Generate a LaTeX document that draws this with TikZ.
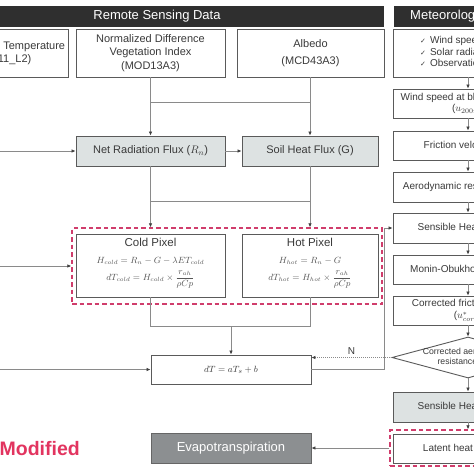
\documentclass[tikz,border=0pt]{standalone}
\usepackage{fontspec}
\setmainfont{Liberation Sans}
\newfontfamily\dejavu{DejaVu Sans}
\usetikzlibrary{arrows.meta,shapes.geometric}
\definecolor{hdr}{HTML}{2F2F2F}
\definecolor{bord}{HTML}{5A5A5A}
\definecolor{txt}{HTML}{3A3A3A}
\definecolor{lgray}{HTML}{DDE2E2}
\definecolor{dgray}{HTML}{8C8F91}
\definecolor{lin}{HTML}{8A8A8A}
\definecolor{redd}{HTML}{D03D6C}
\definecolor{modc}{HTML}{E2345F}
\begin{document}
\begin{tikzpicture}[x=1pt,y=-1pt,
  box/.style={draw=bord, line width=0.9pt, fill=white, text=txt, font=\fontsize{11}{13.5}\selectfont, align=center, inner sep=0pt, rectangle},
  rbox/.style={box, font=\fontsize{10}{11}\selectfont, minimum width=150pt},
  hdrbar/.style={fill=hdr, text=white, font=\fontsize{13}{15}\selectfont, inner sep=0pt, minimum height=21pt},
  conn/.style={draw=lin, line width=0.8pt},
  arr/.style={conn, -{Latex[length=4pt,width=3.6pt,color=black!75]}},
  dotarr/.style={arr, dash pattern=on 1pt off 1pt},
  reddash/.style={draw=redd, line width=1.4pt, dash pattern=on 4.5pt off 3pt, inner sep=0pt, rectangle},
  eq/.style={text=txt!85, font=\fontsize{9}{11}\selectfont, inner sep=0pt},
  lbl/.style={text=txt, inner sep=0pt}]
\useasboundingbox (0,0) rectangle (474,474);
\clip (0,0) rectangle (474,474);
\fill[white] (0,0) rectangle (474,474);

% headers
\node[hdrbar, minimum width=454pt] (hrs) at (157,16.5) {Remote Sensing Data};
\node[hdrbar, minimum width=148pt] (hmet) at (468,16.5) {Meteorological Data};

% input boxes
\node[box, minimum width=136pt, minimum height=48pt] (lst) at (0,53) {Land Surface Temperature\\(MOD11\_L2)};
\node[box, minimum width=149pt, minimum height=48pt] (ndvi) at (150.5,53) {Normalized Difference\\Vegetation Index\\(MOD13A3)};
\node[box, minimum width=147pt, minimum height=48pt] (alb) at (310.5,53) {Albedo\\[3pt](MCD43A3)};
\node[box, minimum width=150pt, minimum height=48pt] (met) at (468,53) {};
\node[lbl, anchor=west, align=left, font=\fontsize{10}{11.5}\selectfont] (metlist) at (420,51.5)
  {{\dejavu\fontsize{7}{8}\selectfont ✓}\hspace{4pt}Wind speed\\
   {\dejavu\fontsize{7}{8}\selectfont ✓}\hspace{4pt}Solar radiation\\
   {\dejavu\fontsize{7}{8}\selectfont ✓}\hspace{4pt}Observation data};

% flux boxes
\node[box, fill=lgray, minimum width=149pt, minimum height=30pt] (net) at (150.5,151) {Net Radiation Flux ($R_n$)};
\node[box, fill=lgray, minimum width=136pt, minimum height=30pt] (soil) at (310,151) {Soil Heat Flux (G)};

% pixels
\node[reddash, minimum width=310pt, minimum height=76pt] (pixfrm) at (227,266) {};
\node[box, minimum width=149pt, minimum height=63pt] (cold) at (150.5,265.5) {};
\node[box, minimum width=136pt, minimum height=63pt] (hot) at (310,265.5) {};
\node[lbl, font=\fontsize{11.5}{13}\selectfont] (coldt) at (150.5,242.5) {Cold Pixel};
\node[eq] (colde1) at (150.5,261) {$H_{cold}=R_n-G-\lambda ET_{cold}$};
\node[eq] (colde2) at (150.5,279.5) {$dT_{cold}=H_{cold}\times{\displaystyle\frac{r_{ah}}{\rho Cp}}$};
\node[lbl, font=\fontsize{11.5}{13}\selectfont] (hott) at (310,242.5) {Hot Pixel};
\node[eq] (hote1) at (310,261) {$H_{hot}=R_n-G$};
\node[eq] (hote2) at (310,279.5) {$dT_{hot}=H_{hot}\times{\displaystyle\frac{r_{ah}}{\rho Cp}}$};

% dT and ET
\node[box, minimum width=160pt, minimum height=29pt, font=\fontsize{9.5}{11}\selectfont] (dT) at (231,369.5) {$dT=aT_s+b$};
\node[box, draw=black!60, fill=dgray, text=white, font=\fontsize{13}{15}\selectfont, minimum width=160pt, minimum height=30pt] (evap) at (231,448) {Evapotranspiration};
\node[anchor=east, inner sep=0pt, text=modc, font=\bfseries\fontsize{19.5}{22}\selectfont] (mod) at (80,449) {Modified};

% right column
\node[rbox, minimum height=29pt] (wind) at (468,103.5) {Wind speed at blending height\\($u_{200m}$)};
\node[rbox, minimum height=29pt] (fric) at (468,145.5) {Friction velocity ($u_{*}$)};
\node[rbox, minimum height=30pt] (aero) at (468,187) {Aerodynamic resistance ($r_{ah}$)};
\node[rbox, minimum height=30pt] (sens1) at (468,228) {Sensible Heat Flux (H)};
\node[rbox, minimum height=29pt] (monin) at (468,269.5) {Monin-Obukhov length (L)};
\node[rbox, minimum height=29pt] (corrf) at (468,310.5) {Corrected friction velocity\\[1pt]($u^{*}_{corr}$)};
\node[draw=bord, line width=0.9pt, fill=white, diamond, minimum width=152pt, minimum height=41pt, inner sep=0pt] (dia) at (468,357.5) {};
\node[lbl, align=center, font=\fontsize{8.7}{10}\selectfont] (diat) at (468,357) {Corrected aerodynamic\\resistance ($r_{ah}$)};
\node[rbox, fill=lgray, minimum height=30pt] (sens2) at (468,407) {Sensible Heat Flux (H)};
\node[rbox, minimum height=29pt] (latent) at (468,448.5) {Latent heat flux (LE)};
\node[reddash, minimum width=156pt, minimum height=36pt] (latfrm) at (468,448) {};

% connectors: remote sensing
\coordinate (jA) at (150.5,102);
\coordinate (jB) at (310,102);
\draw[arr] (ndvi.south) -- (net.north);
\draw[arr] (alb.south -| soil.north) -- (soil.north);
\draw[conn] (jA) -- (jB);
\coordinate (inR) at (-2,151);
\draw[arr] (inR) -- (net.west);
\draw[arr] (net.east) -- (soil.west);
\draw[arr] (net.south) -- (net.south |- pixfrm.north);
\draw[arr] (soil.south) -- (soil.south |- pixfrm.north);
\coordinate (jC) at (150.5,201);
\coordinate (jD) at (310,201);
\draw[conn] (jC) -- (jD);
\coordinate (inC) at (-2,266);
\draw[arr] (inC) -- (pixfrm.west);
\coordinate (jE) at (231,326);
\draw[conn] (cold.south) -- (cold.south |- jE) -- (hot.south |- jE) -- (hot.south);
\draw[arr] (jE) -- (dT.north);
\coordinate (inD) at (-2,369.5);
\draw[arr] (inD) -- (dT.west);
\coordinate (k1) at (384,369.5);
\coordinate (k2) at (384,228);
\draw[arr] (dT.east) -- (k1) -- (k2) -- (sens1.west);
\draw[dotarr] (dia.west) -- (dT.east |- dia.west) node[midway, above=3pt, lbl, font=\fontsize{10}{12}\selectfont] (nlab) {N};
\draw[arr] (latfrm.west) -- (evap.east);

% connectors: right column
\draw[arr] (met.south) -- (wind.north);
\draw[arr] (wind.south) -- (fric.north);
\draw[arr] (fric.south) -- (aero.north);
\draw[arr] (aero.south) -- (sens1.north);
\draw[arr] (sens1.south) -- (monin.north);
\draw[arr] (monin.south) -- (corrf.north);
\draw[arr] (corrf.south) -- (dia.north);
\draw[arr] (dia.south) -- (sens2.north);
\draw[arr] (sens2.south) -- (latfrm.north);
\end{tikzpicture}
\end{document}
